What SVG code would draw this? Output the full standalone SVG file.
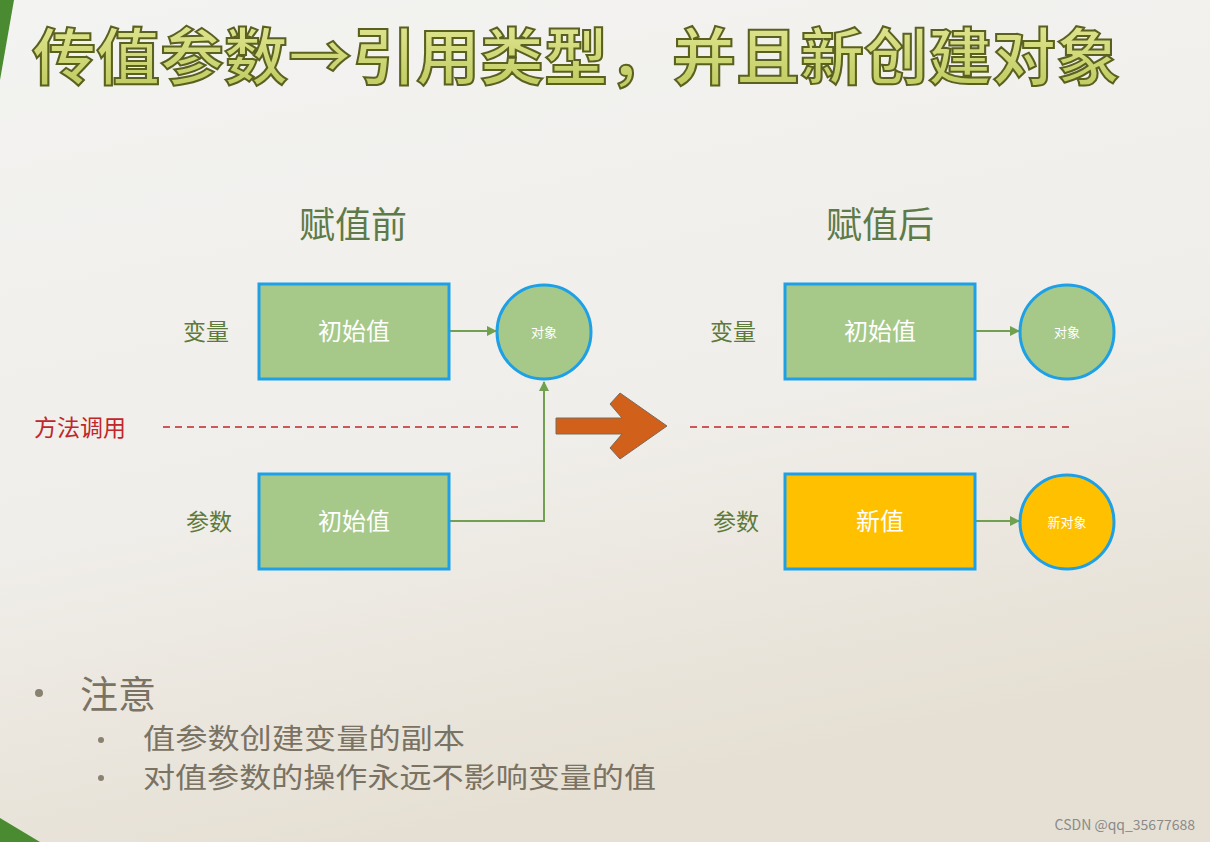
<svg xmlns="http://www.w3.org/2000/svg" width="1210" height="842" viewBox="0 0 1210 842">
<defs>
<linearGradient id="bg" x1="0" y1="0" x2="0.3" y2="1"><stop offset="0" stop-color="#f3f3f1"/><stop offset="0.6" stop-color="#f0eeea"/><stop offset="1" stop-color="#e6e0d4"/></linearGradient>
<linearGradient id="tt" x1="0" y1="0" x2="0" y2="1"><stop offset="0" stop-color="#e6ea9a"/><stop offset="1" stop-color="#bcc85a"/></linearGradient>
<marker id="ah" markerWidth="10" markerHeight="10" refX="9" refY="5" orient="auto" markerUnits="userSpaceOnUse"><path d="M0,0 L10,5 L0,10 z" fill="#70a050"/></marker>
</defs>
<style>
text{font-family:"Noto Sans CJK SC","Liberation Sans",sans-serif}
.box{fill:#a6c98a;stroke:#1ea0e6;stroke-width:3}
.obox{fill:#ffc000;stroke:#1ea0e6;stroke-width:3}
.bt{fill:#fff;font-size:24px;text-anchor:middle}
.ct{fill:#fff;font-size:13px;text-anchor:middle}
.lab{fill:#5e7a3a;font-size:23px}
.hd{fill:#5e7a48;font-size:36px;text-anchor:middle}
.conn{fill:none;stroke:#70a050;stroke-width:2;marker-end:url(#ah)}
.dash{stroke:#c0262a;stroke-width:1.5;stroke-dasharray:7,5}
.note{fill:#7a7262}
</style>
<rect width="1210" height="842" fill="url(#bg)"/>
<polygon points="0,0 14,0 0,80" fill="#4a8a30"/>
<polygon points="0,818 0,842 40,842" fill="#4a8a30"/>
<text x="32" y="80" font-size="62" font-weight="bold" fill="url(#tt)" stroke="#5a6020" stroke-width="2" textLength="1088" lengthAdjust="spacingAndGlyphs">传值参数→引用类型，并且新创建对象</text>
<text x="353" y="238" class="hd">赋值前</text>
<text x="880" y="238" class="hd">赋值后</text>
<g id="conns">
<line x1="450" y1="331" x2="496" y2="331" class="conn"/>
<polyline points="450,521 544,521 544,382" class="conn"/>
<line x1="976" y1="331" x2="1019" y2="331" class="conn"/>
<line x1="976" y1="521" x2="1019" y2="521" class="conn"/>
<line x1="163" y1="427" x2="522" y2="427" class="dash"/>
<line x1="690" y1="427" x2="1070" y2="427" class="dash"/>
</g>
<g id="lab-var1"><text x="183" y="340" class="lab">变量</text></g>
<g id="lab-par1"><text x="186" y="530" class="lab">参数</text></g>
<g id="lab-var2"><text x="710" y="340" class="lab">变量</text></g>
<g id="lab-par2"><text x="713" y="530" class="lab">参数</text></g>
<g id="call"><text x="34" y="436" font-size="23" fill="#c0262a">方法调用</text></g>
<g id="b1"><rect x="259" y="284" width="190" height="95" class="box"/><text x="354" y="340" class="bt">初始值</text></g>
<g id="c1"><circle cx="544" cy="332" r="47" class="box"/><text x="544" y="337" class="ct">对象</text></g>
<g id="b2"><rect x="259" y="474" width="190" height="95" class="box"/><text x="354" y="530" class="bt">初始值</text></g>
<g id="b3"><rect x="785" y="284" width="190" height="95" class="box"/><text x="880" y="340" class="bt">初始值</text></g>
<g id="c3"><circle cx="1067" cy="332" r="47" class="box"/><text x="1067" y="337" class="ct">对象</text></g>
<g id="b4"><rect x="785" y="474" width="190" height="95" class="obox"/><text x="880" y="530" class="bt">新值</text></g>
<g id="c4"><circle cx="1067" cy="522" r="47" class="obox"/><text x="1067" y="527" class="ct">新对象</text></g>
<g id="bigarrow"><polygon points="556,418 622,418 610,404 620,393 667,426 620,459 610,448 622,434 556,434" fill="#d0601a" stroke="#7a6a5a" stroke-width="1"/></g>
<g id="notes">
<circle cx="39" cy="693" r="4" fill="#8a8270"/>
<text x="80" y="708" font-size="38" class="note">注意</text>
<circle cx="101" cy="740" r="3" fill="#8a8270"/>
<text x="143" y="749" font-size="28" class="note" textLength="322" lengthAdjust="spacingAndGlyphs">值参数创建变量的副本</text>
<circle cx="101" cy="778" r="3" fill="#8a8270"/>
<text x="143" y="788" font-size="28" class="note" textLength="513" lengthAdjust="spacingAndGlyphs">对值参数的操作永远不影响变量的值</text>
</g>
<text x="1195" y="830" font-size="14" fill="#8a8a8a" text-anchor="end">CSDN @qq_35677688</text>
</svg>
